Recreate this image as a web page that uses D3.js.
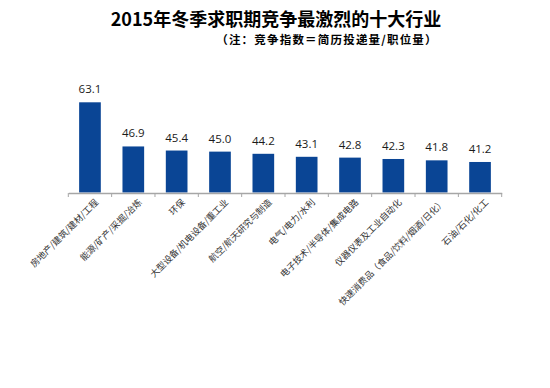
<!DOCTYPE html>
<html><head><meta charset="utf-8">
<script src="https://cdn.jsdelivr.net/npm/d3@7/dist/d3.min.js"></script>
<style>body{margin:0;background:#fff;} svg{display:block;}</style>
</head><body>
<script>
const categories = ["房地产/建筑/建材/工程","能源/矿产/采掘/冶炼","环保","大型设备/机电设备/重工业","航空/航天研究与制造","电气/电力/水利","电子技术/半导体/集成电路","仪器仪表及工业自动化","快速消费品（食品/饮料/烟酒/日化）","石油/石化/化工"];
const values = [63.1,46.9,45.4,45.0,44.2,43.1,42.8,42.3,41.8,41.2];
const title = "2015年冬季求职期竞争最激烈的十大行业";
const subtitle = "（注：竞争指数＝简历投递量/职位量）";

const W=550,H=388;
const svg=d3.select("body").append("svg").attr("width",W).attr("height",H);
const font="'Noto Sans CJK SC','Noto Sans',sans-serif";
const x=d3.scaleBand().domain(categories).range([68.3,501.7]).paddingInner(0.5).paddingOuter(0.25);
const y=d3.scaleLinear().domain([30,70]).range([192.5,83.5]);

svg.append("text").attr("x",276).attr("y",26).attr("text-anchor","middle")
  .attr("font-family",font).attr("font-weight","bold").attr("font-size",18).attr("fill","#000").text(title);
svg.append("text").attr("x",327).attr("y",43.5).attr("text-anchor","middle")
  .attr("font-family",font).attr("font-weight","bold").attr("font-size",11.5).attr("letter-spacing",1.2)
  .attr("fill","#000").text(subtitle);

svg.selectAll("rect.bar").data(values).join("rect").attr("class","bar")
  .attr("x",(d,i)=>x(categories[i])).attr("width",x.bandwidth())
  .attr("y",d=>y(d)).attr("height",d=>y(30)-y(d)).attr("fill","#0a4595");

svg.selectAll("text.val").data(values).join("text").attr("class","val")
  .attr("x",(d,i)=>x(categories[i])+x.bandwidth()/2).attr("y",d=>y(d)-9)
  .attr("text-anchor","middle").attr("font-family","'Open Sans','Noto Sans',sans-serif")
  .attr("font-size",11.5).attr("fill","#1a1a1a").text(d=>d.toFixed(1));

const ax=d3.axisBottom(x).tickSize(0).tickFormat("");
const g=svg.append("g").attr("transform","translate(0,193)").call(ax);
g.select(".domain").attr("stroke","#a6a6a6").attr("stroke-width",1.5);
const step=x.step();
const edges=d3.range(categories.length+1).map(i=>68.3+i*step*1.0);
g.selectAll("line.tk").data(edges).join("line").attr("class","tk")
  .attr("x1",d=>d).attr("x2",d=>d).attr("y1",0).attr("y2",4).attr("stroke","#a6a6a6");

svg.selectAll("text.cat").data(categories).join("text").attr("class","cat")
  .attr("transform",d=>`translate(${x(d)+x.bandwidth()/2+9},203) rotate(-45)`)
  .attr("text-anchor","end").attr("font-family",font).attr("font-size",9).attr("fill","#333").text(d=>d);
</script>
</body></html>
